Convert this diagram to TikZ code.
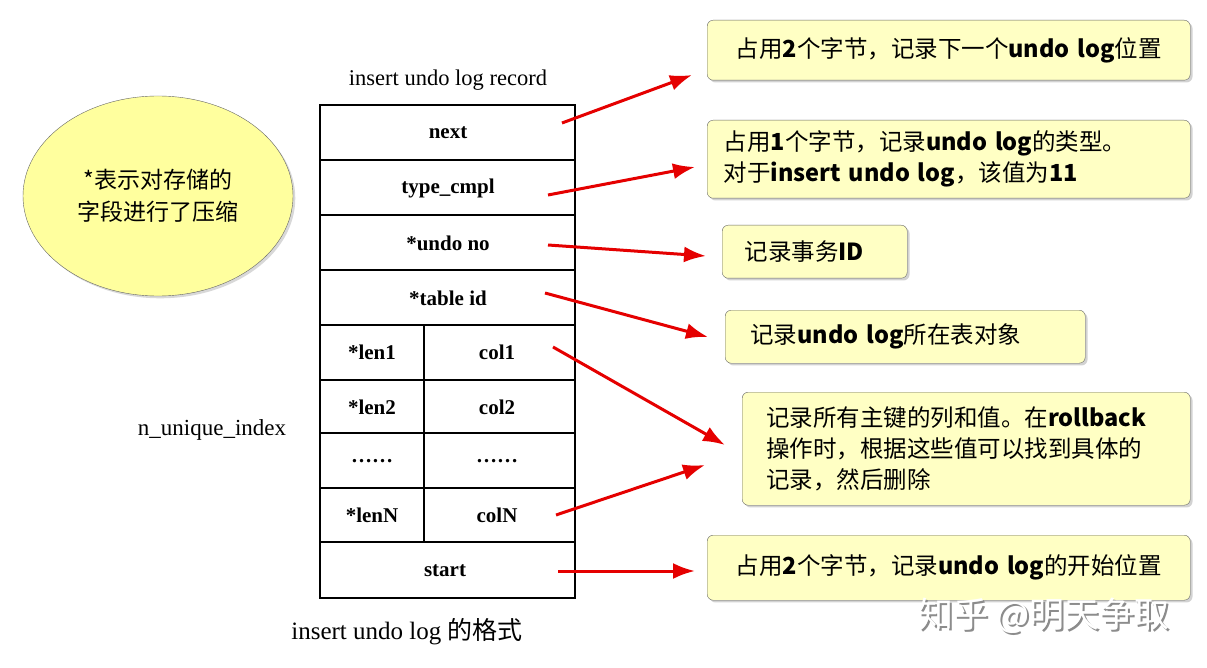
\documentclass[tikz,border=0pt]{standalone}
\usepackage{fontspec}
\setmainfont{Liberation Serif}
\newfontfamily\cjk{Noto Sans CJK SC}
\usetikzlibrary{shadows,arrows.meta,shapes.geometric}
\definecolor{boxy}{HTML}{FFFFC4}
\definecolor{elly}{HTML}{FFFF9E}
\begin{document}
\begin{tikzpicture}[x=1pt,y=-1pt,
  callout/.style={draw=black!60,fill=boxy,rounded corners=6pt,drop shadow={opacity=0.35},font=\cjk\fontsize{23.5}{31}\selectfont,align=left,anchor=north west,inner sep=0pt},
  rarrow/.style={draw=red!90!black,line width=3pt,-{Latex[length=22pt,width=16pt]}},
  cell/.style={font=\bfseries\fontsize{21}{24}\selectfont}]
\useasboundingbox (0,0) rectangle (1207,668);
\fill[white] (0,0) rectangle (1207,668);
% ellipse
\node (ell) [draw=black!60,fill=elly,ellipse,minimum width=270pt,minimum height=200pt,drop shadow={opacity=0.3},align=center,font=\cjk\fontsize{23}{32}\selectfont] at (158,196) {*表示对存储的\\字段进行了压缩};
% table
\draw[line width=1.1pt] (320,105) rectangle (575,598);
\foreach \y in {160,215,270,325,380,433,488,542} \draw[line width=1.1pt] (320,\y) -- (575,\y);
\draw[line width=1.1pt] (424,325) -- (424,542);
\node (tnext) [cell] at (448,133) {next};
\node (ttype) [cell] at (448,188) {type\_cmpl};
\node (tundo) [cell] at (448,243) {*undo no};
\node (ttab) [cell] at (448,298) {*table id};
\node (tl1) [cell] at (372,352) {*len1};
\node (tc1) [cell] at (497,352) {col1};
\node (tl2) [cell] at (372,407) {*len2};
\node (tc2) [cell] at (497,407) {col2};
\node (tld) [cell] at (372,461) {……};
\node (tcd) [cell] at (497,461) {……};
\node (tlN) [cell] at (372,515) {*lenN};
\node (tcN) [cell] at (497,515) {colN};
\node (tstart) [cell] at (445,571) {start};
\node (title) [font=\fontsize{22.5}{26}\selectfont] at (448,80) {insert undo log record};
\node (cap) [font=\fontsize{25}{28}\selectfont] at (407,632) {insert undo log {\cjk 的格式}};
\node (nui) [font=\fontsize{23}{26}\selectfont] at (212,430) {n\_unique\_index};
% callouts
\node (b1) [callout,minimum width=483pt,minimum height=60pt,text width=470pt] at (707,20) {\hspace*{22pt}占用\textbf{2}个字节，记录下一个\textbf{undo log}位置};
\node (b2) [callout,minimum width=483pt,minimum height=78pt,text width=470pt] at (707,120) {\hspace*{10pt}占用\textbf{1}个字节，记录\textbf{undo log}的类型。\\\hspace*{10pt}对于\textbf{insert undo log}，该值为\textbf{11}};
\node (b3) [callout,minimum width=185pt,minimum height=53pt,text width=180pt] at (722,225) {\hspace*{20pt}记录事务\textbf{ID}};
\node (b4) [callout,minimum width=360pt,minimum height=53pt,text width=350pt] at (725,310) {\hspace*{20pt}记录\textbf{undo log}所在表对象};
\node (b5) [callout,minimum width=448pt,minimum height=113pt,text width=440pt] at (742,392) {\hspace*{20pt}\begin{minipage}{420pt}记录所有主键的列和值。在\textbf{rollback}\\操作时，根据这些值可以找到具体的\\记录，然后删除\end{minipage}};
\node (b6) [callout,minimum width=483pt,minimum height=65pt,text width=470pt] at (707,535) {\hspace*{22pt}占用\textbf{2}个字节，记录\textbf{undo log}的开始位置};
% arrows
\coordinate (s1) at (562,123); \coordinate (s2) at (548,195); \coordinate (s3) at (548,245);
\coordinate (s4) at (545,293); \coordinate (s5) at (553,347); \coordinate (s6) at (556,515); \coordinate (s7) at (558,571);
\coordinate (a1) at (692,75); \coordinate (a2) at (695,167); \coordinate (a3) at (706,256);
\coordinate (a4) at (708,337); \coordinate (a5) at (725,445); \coordinate (a6) at (705,465); \coordinate (a7) at (695,571);
\draw[rarrow] (s1) -- (a1);
\draw[rarrow] (s2) -- (a2);
\draw[rarrow] (s3) -- (a3);
\draw[rarrow] (s4) -- (a4);
\draw[rarrow] (s5) -- (a5);
\draw[rarrow] (s6) -- (a6);
\draw[rarrow] (s7) -- (a7);
% watermark
\node (wm) [font=\cjk\fontsize{35}{40}\selectfont,text=black!45] at (1046,618) {知乎 @明天争取};
\node [font=\cjk\fontsize{35}{40}\selectfont,text=white] at (1044,616) {知乎 @明天争取};
\end{tikzpicture}
\end{document}
